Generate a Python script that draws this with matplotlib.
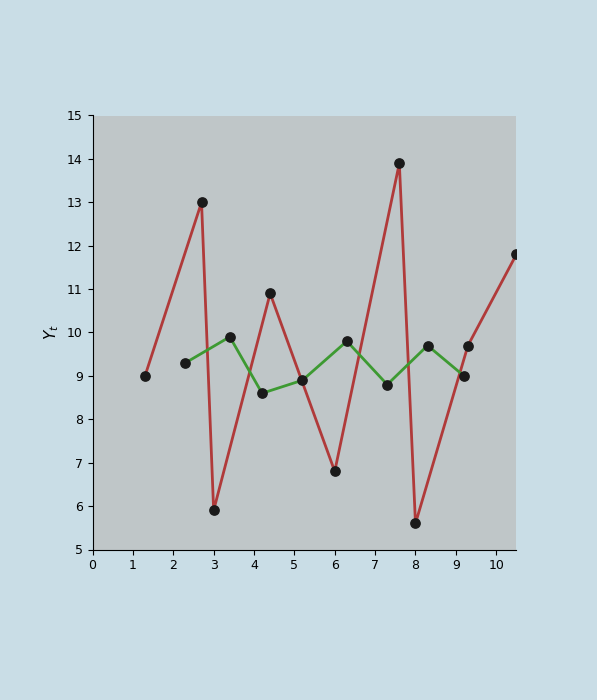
import matplotlib.pyplot as plt

red_x = [1.3, 2.7, 3.0, 4.4, 6.0, 7.6, 8.0, 9.3, 10.5]
red_y = [9.0, 13.0, 5.9, 10.9, 6.8, 13.9, 5.6, 9.7, 11.8]
green_x = [2.3, 3.4, 4.2, 5.2, 6.3, 7.3, 8.3, 9.2]
green_y = [9.3, 9.9, 8.6, 8.9, 9.8, 8.8, 9.7, 9.0]

fig = plt.figure(figsize=(5.97, 7.0), dpi=100)
fig.patch.set_facecolor('#c9dde6')
ax = fig.add_axes([0.155, 0.215, 0.71, 0.62])
ax.set_facecolor('#bfc6c8')
ax.plot(red_x, red_y, color='#b03a3a', lw=2, zorder=2)
ax.plot(green_x, green_y, color='#3d9a32', lw=2, zorder=2)
ax.scatter(red_x, red_y, color='#1a1a1a', s=45, zorder=3)
ax.scatter(green_x, green_y, color='#1a1a1a', s=45, zorder=3)
ax.set_xlim(0, 10.5)
ax.set_ylim(5, 15)
ax.set_xticks(range(0, 11))
ax.set_yticks(range(5, 16))
ax.tick_params(labelsize=9)
for s in ['top', 'right']:
    ax.spines[s].set_visible(False)
ax.set_ylabel('$Y_t$', fontsize=11)
fig.savefig('out.png', facecolor=fig.get_facecolor())
